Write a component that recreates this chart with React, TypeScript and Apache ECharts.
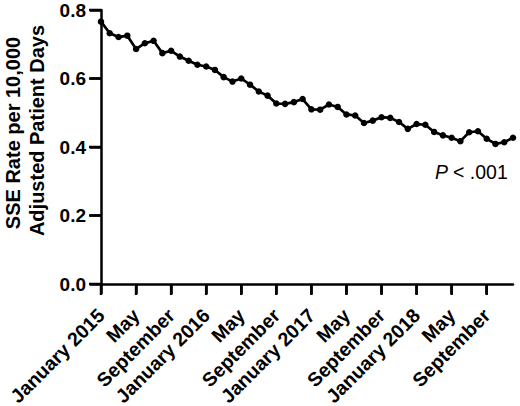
import React, { useEffect, useRef } from "react";
import * as echarts from "echarts";

const monthNames = ["January", "February", "March", "April", "May", "June", "July", "August", "September", "October", "November", "December"];
const years = [2015, 2016, 2017, 2018];
const categories: string[] = [];
years.forEach((y) => monthNames.forEach((m) => categories.push(`${m} ${y}`)));

const sseRate = [
  0.766, 0.732, 0.721, 0.725, 0.686, 0.703, 0.710, 0.674, 0.681, 0.664, 0.652, 0.640,
  0.635, 0.625, 0.604, 0.591, 0.600, 0.582, 0.562, 0.550, 0.527, 0.526, 0.531, 0.540,
  0.510, 0.509, 0.524, 0.517, 0.495, 0.492, 0.470, 0.477, 0.487, 0.485, 0.473, 0.453,
  0.467, 0.465, 0.444, 0.434, 0.427, 0.417, 0.443, 0.446, 0.424, 0.409, 0.414, 0.427,
];

const yTicks = [0, 0.2, 0.4, 0.6, 0.8];
const xTickEvery = 4;
const yTitleLines = ["SSE Rate per 10,000", "Adjusted Patient Days"];
const pValueText = "< .001";

const FONT = "Liberation Sans, Arial, sans-serif";

const xTickData = categories.map((_, i) => i).filter((i) => i % xTickEvery === 0).map((i) => [i, 0]);
const yTickData = yTicks.map((v) => [0, v]);

function xLabel(value: string): string {
  const [m, y] = value.split(" ");
  return m === "January" ? `${m} ${y}` : m;
}

export default function App() {
  const ref = useRef<HTMLDivElement>(null);
  useEffect(() => {
    if (!ref.current) return;
    const chart = echarts.init(ref.current, undefined, { renderer: "svg" });
    chart.setOption({
      animation: false,
      backgroundColor: "#ffffff",
      grid: { left: 101, right: 7, top: 10, bottom: 122, containLabel: false, outerBoundsMode: "none" },
      xAxis: {
        type: "category",
        data: categories,
        boundaryGap: false,
        axisLine: { show: true, lineStyle: { color: "#000", width: 2.5 } },
        axisTick: {
          show: true,
          inside: false,
          alignWithLabel: true,
          interval: xTickEvery - 1,
          length: 10,
          lineStyle: { color: "#000", width: 2.5 },
        },
        axisLabel: {
          interval: xTickEvery - 1,
          rotate: 45,
          margin: 28,
          align: "right",
          verticalAlign: "middle",
          color: "#000",
          fontWeight: "bold",
          fontSize: 19.5,
          fontFamily: FONT,
          formatter: xLabel,
        },
        splitLine: { show: false },
      },
      yAxis: {
        type: "value",
        min: 0,
        max: 0.8,
        interval: 0.2,
        axisLine: { show: true, lineStyle: { color: "#000", width: 2.5 } },
        axisTick: { show: true, inside: false, length: 11, lineStyle: { color: "#000", width: 2.5 } },
        axisLabel: {
          color: "#000",
          fontWeight: "bold",
          fontSize: 19,
          fontFamily: FONT,
          margin: 15,
          formatter: (v: number) => (yTicks.includes(Math.round(v * 10) / 10) ? v.toFixed(1) : ""),
        },
        splitLine: { show: false },
      },
      series: [
        {
          type: "line",
          data: sseRate,
          symbol: "circle",
          symbolSize: 6.5,
          showAllSymbol: true,
          itemStyle: { color: "#000" },
          lineStyle: { color: "#000", width: 2.7 },
          z: 3,
        },
        {
          type: "custom",
          silent: true,
          clip: false,
          z: 5,
          data: xTickData,
          renderItem: (_params: any, api: any) => {
            const p = api.coord([api.value(0), api.value(1)]);
            return {
              type: "line",
              shape: { x1: p[0], y1: p[1], x2: p[0], y2: p[1] + 11 },
              style: { stroke: "#000", lineWidth: 2.5 },
            };
          },
        },
        {
          type: "custom",
          silent: true,
          clip: false,
          z: 5,
          data: yTickData,
          renderItem: (_params: any, api: any) => {
            const p = api.coord([api.value(0), api.value(1)]);
            return {
              type: "line",
              shape: { x1: p[0] - 12, y1: p[1], x2: p[0], y2: p[1] },
              style: { stroke: "#000", lineWidth: 2.5 },
            };
          },
        },
      ],
      graphic: [
        {
          type: "text",
          x: 13,
          y: 133,
          rotation: Math.PI / 2,
          style: {
            text: yTitleLines[0],
            fontSize: 20,
            fontWeight: "bold",
            fontFamily: FONT,
            fill: "#000",
            align: "center",
            verticalAlign: "middle",
          },
        },
        {
          type: "text",
          x: 37,
          y: 130.5,
          rotation: Math.PI / 2,
          style: {
            text: yTitleLines[1],
            fontSize: 20,
            fontWeight: "bold",
            fontFamily: FONT,
            fill: "#000",
            align: "center",
            verticalAlign: "middle",
          },
        },
        {
          type: "text",
          x: 435,
          y: 172,
          style: {
            text: "P",
            fontSize: 19.5,
            fontStyle: "italic",
            fontFamily: FONT,
            fill: "#000",
            align: "left",
            verticalAlign: "middle",
          },
        },
        {
          type: "text",
          x: 453,
          y: 172,
          style: {
            text: pValueText,
            fontSize: 19.5,
            fontFamily: FONT,
            fill: "#000",
            align: "left",
            verticalAlign: "middle",
          },
        },
      ],
    });
    return () => chart.dispose();
  }, []);
  return <div ref={ref} style={{ width: 520, height: 406, position: "absolute", left: 0, top: 0 }} />;
}
